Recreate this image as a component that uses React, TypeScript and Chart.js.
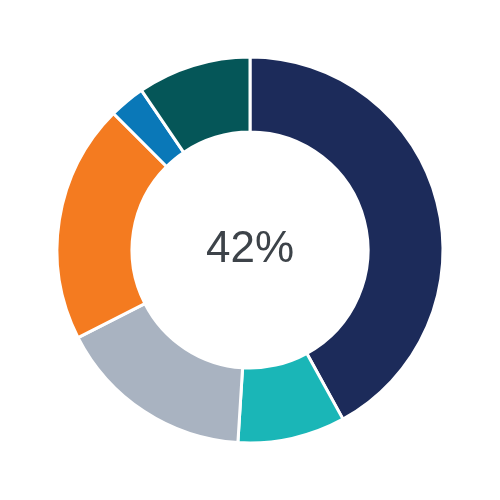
import React, { useEffect, useRef } from "react";
import { Chart, registerables } from "chart.js";

Chart.register(...registerables);

const categories = ["Segment A", "Segment B", "Segment C", "Segment D", "Segment E", "Segment F"];
const values = [42, 9, 16.5, 20, 3, 9.5];
const colors = ["#1c2b5a", "#1ab6b7", "#a9b3c1", "#f47b20", "#0a78b8", "#055658"];
const centerLabel = "42%";

export default function App() {
  const ref = useRef<HTMLCanvasElement | null>(null);
  useEffect(() => {
    if (!ref.current) return;
    const chart = new Chart(ref.current, {
      type: "doughnut",
      data: {
        labels: categories,
        datasets: [
          {
            data: values,
            backgroundColor: colors,
            borderColor: "#ffffff",
            borderWidth: 3,
          },
        ],
      },
      options: {
        animation: false,
        responsive: true,
        maintainAspectRatio: false,
        cutout: 118,
        layout: { padding: 55.5 },
        plugins: { legend: { display: false }, tooltip: { enabled: false } },
      },
    });
    return () => chart.destroy();
  }, []);
  return (
    <div style={{ position: "fixed", left: 0, top: 0, width: 500, height: 500, background: "#fff" }}>
      <canvas ref={ref} />
      <div
        style={{
          position: "absolute",
          left: 0,
          top: -3,
          width: 500,
          height: 500,
          display: "flex",
          alignItems: "center",
          justifyContent: "center",
          fontFamily: "'Liberation Sans', Arial, sans-serif",
          fontSize: 44,
          color: "#3d4349",
          pointerEvents: "none",
          lineHeight: 1,
        }}
      >
        {centerLabel}
      </div>
    </div>
  );
}
